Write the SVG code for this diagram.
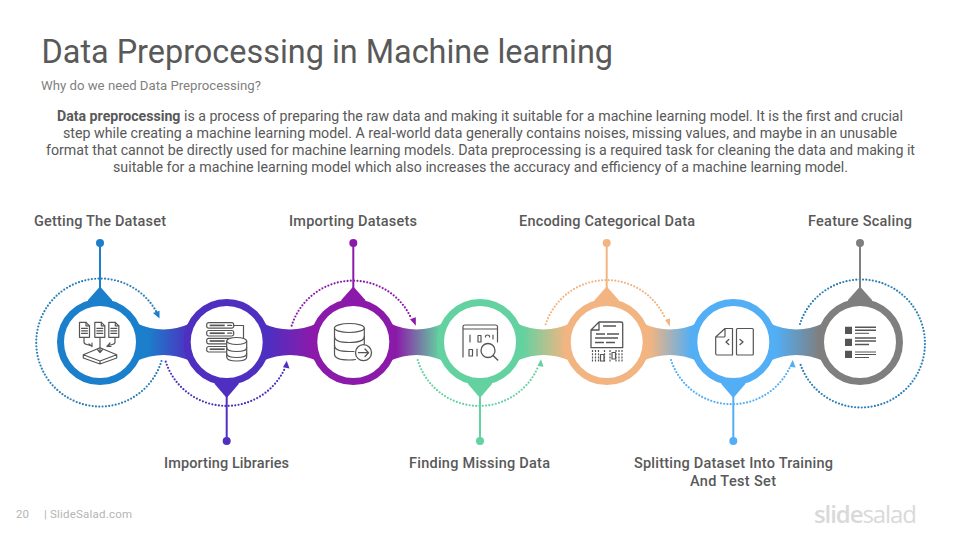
<svg xmlns="http://www.w3.org/2000/svg" width="960" height="540" viewBox="0 0 960 540">
<style>
text{font-family:Roboto,"Liberation Sans",sans-serif;fill:#595959}
.title{font-size:33px}
.sub{font-size:13px;fill:#7f7f7f}
.body{font-size:14.500px;text-anchor:middle;fill:#595959}
.body tspan{font-weight:700}
.lab{font-size:14.500px;font-weight:500;text-anchor:middle;fill:#595959}
.foot{font-size:11.500px;fill:#b5b5b5}
.logo{font-family:"Open Sans",Lato,sans-serif;font-size:24px;fill:#d9d9d9;font-weight:400}
.logo tspan{font-weight:600}
.dot{fill:none;stroke-width:2.200;stroke-linecap:round;stroke-dasharray:0 3.300}
.stem{stroke-width:2;fill:none}
.ring{fill:#fff;stroke-width:7}
.ic{fill:none;stroke:#555;stroke-width:1.200;stroke-linejoin:round;stroke-linecap:round}
.icw{fill:#fff;stroke:#555;stroke-width:1.200;stroke-linejoin:round;stroke-linecap:round}
.icf{fill:#555}
.thick{stroke-width:1.700;stroke-linecap:butt}
</style>
<defs>
<linearGradient id="g1" gradientUnits="userSpaceOnUse" x1="148" y1="0" x2="190" y2="0"><stop offset="0" stop-color="#1b7fcb"/><stop offset="1" stop-color="#4f2fc0"/></linearGradient>
<linearGradient id="g2" gradientUnits="userSpaceOnUse" x1="270" y1="0" x2="312" y2="0"><stop offset="0" stop-color="#4f2fc0"/><stop offset="1" stop-color="#8b1aaa"/></linearGradient>
<linearGradient id="g3" gradientUnits="userSpaceOnUse" x1="396" y1="0" x2="440" y2="0"><stop offset="0" stop-color="#8b1aaa"/><stop offset="1" stop-color="#63d2a0"/></linearGradient>
<linearGradient id="g4" gradientUnits="userSpaceOnUse" x1="523" y1="0" x2="566" y2="0"><stop offset="0" stop-color="#63d2a0"/><stop offset="1" stop-color="#f2b582"/></linearGradient>
<linearGradient id="g5" gradientUnits="userSpaceOnUse" x1="650" y1="0" x2="692" y2="0"><stop offset="0" stop-color="#f2b582"/><stop offset="1" stop-color="#52aef5"/></linearGradient>
<linearGradient id="g6" gradientUnits="userSpaceOnUse" x1="776" y1="0" x2="820" y2="0"><stop offset="0" stop-color="#52aef5"/><stop offset="1" stop-color="#7f7f7f"/></linearGradient>
<g id="doc"><path d="M0 0H6.500L10 3.500V15H0Z" class="icw"/><path d="M6.500 0V3.500H10" class="ic"/><path d="M2 6H8M2 8.500H8M2 11H8" class="ic"/></g>
<g id="row"><rect x="0" y="0" width="27" height="5.500" rx="2" class="icw"/><path d="M3 2.700H18" class="ic thick"/><path d="M21 2.700H25" class="ic"/></g>
</defs>
<rect width="960" height="540" fill="#fff"/>

<text class="title" x="41.500" y="63" textLength="571.500" lengthAdjust="spacingAndGlyphs">Data Preprocessing in Machine learning</text>
<text class="sub" x="41" y="90" textLength="220" lengthAdjust="spacingAndGlyphs">Why do we need Data Preprocessing?</text>
<text class="body" x="480" y="121" textLength="846" lengthAdjust="spacingAndGlyphs"><tspan>Data preprocessing</tspan> is a process of preparing the raw data and making it suitable for a machine learning model. It is the first and crucial</text>
<text class="body" x="480" y="138" textLength="834" lengthAdjust="spacingAndGlyphs">step while creating a machine learning model. A real-world data generally contains noises, missing values, and maybe in an unusable</text>
<text class="body" x="480.500" y="155" textLength="869" lengthAdjust="spacingAndGlyphs">format that cannot be directly used for machine learning models. Data preprocessing is a required task for cleaning the data and making it</text>
<text class="body" x="480.500" y="172" textLength="735" lengthAdjust="spacingAndGlyphs">suitable for a machine learning model which also increases the accuracy and efficiency of a machine learning model.</text>

<g id="connectors">
<path d="M136 323Q150 329.500 163.500 329.500Q177 329.500 191 323V361Q177 355 163.500 355Q150 355 136 361Z" fill="url(#g1)"/>
<path d="M262 323Q276 329.500 290 329.500Q304 329.500 318 323V361Q304 355 290 355Q276 355 262 361Z" fill="url(#g2)"/>
<path d="M389 323Q403 329.500 416.500 329.500Q430 329.500 444 323V361Q430 355 416.500 355Q403 355 389 361Z" fill="url(#g3)"/>
<path d="M516 323Q530 329.500 543.500 329.500Q557 329.500 571 323V361Q557 355 543.500 355Q530 355 516 361Z" fill="url(#g4)"/>
<path d="M642 323Q656 329.500 670 329.500Q684 329.500 698 323V361Q684 355 670 355Q656 355 642 361Z" fill="url(#g5)"/>
<path d="M769 323Q783 329.500 796.500 329.500Q810 329.500 824 323V361Q810 355 796.500 355Q783 355 769 361Z" fill="url(#g6)"/>

<path class="dot" stroke="#2a7fb8" d="M161.500 361A64 64 0 1 1 157 313"/>
<path class="dot" stroke="#4f2fc0" d="M165.700 361.700A64 64 0 0 0 285 368"/>
<path class="dot" stroke="#8b1aaa" d="M291.700 325.700A64 64 0 0 1 411 318"/>
<path class="dot" stroke="#63d2a0" d="M417.700 360A64 64 0 0 0 538 367"/>
<path class="dot" stroke="#f2b582" d="M545.700 324.300A64 64 0 0 1 665 318"/>
<path class="dot" stroke="#52aef5" d="M671 360A64 64 0 0 0 790 367"/>
<path class="dot" stroke="#2a7fb8" d="M800 324A64 64 0 1 1 800 363"/>

<path fill="#1b7fcb" d="M159.500 318.500L153 313L159.500 310.800Z"/>
<path fill="#4f2fc0" d="M286.700 360.700L283 367.300L289.500 368.400Z"/>
<path fill="#8b1aaa" d="M415.800 325.700L410 319.300L415.800 317.300Z"/>
<path fill="#63d2a0" d="M541 359.300L537.300 366L543.500 366.800Z"/>
<path fill="#f2b582" d="M670 326.700L665 320L670 318.300Z"/>
<path fill="#52aef5" d="M792.700 360L789.300 366.700L795.700 367.400Z"/>

<path class="stem" stroke="#1b7fcb" d="M100 243V290"/><circle cx="100" cy="243" r="4" fill="#1b7fcb"/>
<path class="stem" stroke="#4f2fc0" d="M226.700 395V441"/><circle cx="226.700" cy="441" r="4" fill="#4f2fc0"/>
<path class="stem" stroke="#8b1aaa" d="M353.300 243V290"/><circle cx="353.300" cy="243" r="4" fill="#8b1aaa"/>
<path class="stem" stroke="#63d2a0" d="M480 395V441"/><circle cx="480" cy="441" r="4" fill="#63d2a0"/>
<path class="stem" stroke="#f2b582" d="M606.700 243V290"/><circle cx="606.700" cy="243" r="4" fill="#f2b582"/>
<path class="stem" stroke="#52aef5" d="M733.300 395V441"/><circle cx="733.300" cy="441" r="4" fill="#52aef5"/>
<path class="stem" stroke="#7f7f7f" d="M860 243V290"/><circle cx="860" cy="243" r="4" fill="#7f7f7f"/>
</g>

<g id="node1">
<path fill="#1b7fcb" d="M100 286.500L88 300V306H112V300Z"/>
<circle class="ring" stroke="#1b7fcb" cx="100" cy="342" r="39.500"/>
<use href="#doc" x="79.500" y="322.300"/><use href="#doc" x="94.800" y="322.300"/><use href="#doc" x="108.800" y="322.300"/>
<path class="ic" d="M84 338V342Q84 344 87 344.500L92 346M100 338V352M115 338V342Q115 344 112 344.500L107 346M89 344L92 346.500L92 343M97.500 349.500L100 352.500L102.500 349.500M110 343L107 346.500L111 346.500"/>
<path class="ic" d="M100 347.700L116.700 354.800L100 361V364L116.700 358V354.800M100 347.700L83.300 354.800L100 361M83.300 354.800V358L100 364"/>
<text class="lab" x="100" y="226" textLength="132">Getting The Dataset</text>
</g>

<g id="node2">
<path fill="#4f2fc0" d="M226.700 398L214.700 384V378H238.700V384Z"/>
<circle class="ring" stroke="#4f2fc0" cx="226.700" cy="342" r="39.500"/>
<path class="ic" d="M232 325.500H243.500V340"/>
<use href="#row" x="206.700" y="322.700"/><use href="#row" x="206.700" y="330.500"/><use href="#row" x="206.700" y="338.300"/><use href="#row" x="206.700" y="346.500"/>
<path class="icw" d="M226.700 341V357C226.700 359.500 231 361 236.700 361S246.700 359.500 246.700 357V341Z"/>
<ellipse class="icw" cx="236.700" cy="341" rx="10" ry="3.500"/>
<path class="ic" d="M226.700 347.500C226.700 350 231 351.500 236.700 351.500S246.700 350 246.700 347.500M226.700 353.500C226.700 356 231 357.500 236.700 357.500S246.700 356 246.700 353.500"/>
<text class="lab" x="226.500" y="468" textLength="125">Importing Libraries</text>
</g>

<g id="node3">
<path fill="#8b1aaa" d="M353.300 286.500L341.300 300V306H365.300V300Z"/>
<circle class="ring" stroke="#8b1aaa" cx="353.300" cy="342" r="39.500"/>
<path class="ic" d="M334.500 328V354C334.500 358 341 360 349.300 360Q353 360 355.500 359.500M364.300 328V344"/>
<ellipse class="ic" cx="349.400" cy="328" rx="15" ry="4.500"/>
<path class="ic" d="M334.500 336.500C334.500 340.500 341 342.500 349.300 342.500S364.300 340.500 364.300 336.500M334.500 345.500C334.500 349.500 341 351.500 349.300 351.500H354"/>
<circle class="ic" cx="363.500" cy="352.700" r="8" style="stroke-width:1.300"/>
<path class="ic" style="stroke-width:1.300" d="M358.500 352.700H368.500M365 349L368.500 352.700L365 356.500"/>
<text class="lab" x="353" y="226" textLength="128">Importing Datasets</text>
</g>

<g id="node4">
<path fill="#63d2a0" d="M480 398L468 384V378H492V384Z"/>
<circle class="ring" stroke="#63d2a0" cx="480" cy="342" r="39.500"/>
<path class="ic" d="M463 357V326.500Q463 325 465 325H495.500Q497.500 325 497.500 326.500V342M463 329H497.500"/>
<path class="ic" d="M470 335V342M478 335.500H481V342H478ZM485.500 337V336Q485.500 335 487.500 335T489.500 336V337M493 335V339"/>
<path class="ic" d="M469 349.500H472.500V356H469ZM477 349V356"/>
<circle class="ic" cx="488" cy="350.500" r="7" style="stroke-width:1.300"/>
<path class="ic" style="stroke-width:1.500" d="M493 355.500L497.700 360"/>
<text class="lab" x="479.500" y="468" textLength="141">Finding Missing Data</text>
</g>

<g id="node5">
<path fill="#f2b582" d="M606.700 286.500L594.700 300V306H618.700V300Z"/>
<circle class="ring" stroke="#f2b582" cx="606.700" cy="342" r="39.500"/>
<path class="ic" style="stroke-width:1.300" d="M591 330L599 322H621Q622.700 322 622.700 323.500V347.700H591ZM599 322V330H591"/>
<path class="ic thick" d="M603 326H616M596 334H605M607 334H619M595 338H618M595 342.500H604M606 342.500H615"/>
<path stroke="#555" stroke-width="1.200" fill="none" stroke-dasharray="2 1.200" d="M592.500 350V362.500M595.500 350V362.500M598.500 350V362.500M604.500 350V362.500M610 350V362.500M616 350V362.500M619 350V362.500M622 350V362.500"/>
<path class="ic" d="M600.500 354.500H604V361H600.500ZM612 352.500H615.500V359H612Z"/>
<text class="lab" x="607" y="226" textLength="176">Encoding Categorical Data</text>
</g>

<g id="node6">
<path fill="#52aef5" d="M733.300 398L721.300 384V378H745.300V384Z"/>
<circle class="ring" stroke="#52aef5" cx="733.300" cy="342" r="39.500"/>
<path class="ic" style="stroke-width:1.200" d="M715.700 337L725 328.500H732.500V355H717Q715.700 355 715.700 353.500ZM725 328.500V336Q725 337 724 337H715.700"/>
<rect class="ic" style="stroke-width:1.200" x="736.500" y="328.500" width="16.800" height="26.500" rx="1"/>
<path class="ic" style="stroke-width:1.300" d="M728.800 339.500L726 342L728.800 344.500M740 339.500L743 342L740 344.500"/>
<text class="lab" x="733.500" y="468" textLength="199">Splitting Dataset Into Training</text>
<text class="lab" x="733" y="486" textLength="86">And Test Set</text>
</g>

<g id="node7">
<path fill="#7f7f7f" d="M860 286.500L848 300V306H872V300Z"/>
<circle class="ring" stroke="#7f7f7f" cx="860" cy="342" r="39.500"/>
<path class="icf" d="M845 326.700H852V334H845ZM845 338.700H852V346H845ZM845 350.700H852V358H845Z"/>
<path stroke="#555" fill="none" stroke-width="1.600" d="M855 327.300H876M855 330.300H876M855 338H876M855 341H876M855 344.500H869"/>
<path stroke="#555" fill="none" stroke-width="1" d="M855 333.300H869M855 352H876M855 354.500H876M855 357.500H869"/>
<text class="lab" x="860" y="226" textLength="104">Feature Scaling</text>
</g>

<text class="foot" x="16" y="518">20</text>
<text class="foot" x="44" y="518" textLength="88">| SlideSalad.com</text>
<text class="logo" x="814" y="523" textLength="103"><tspan>slide</tspan>salad</text>
</svg>
